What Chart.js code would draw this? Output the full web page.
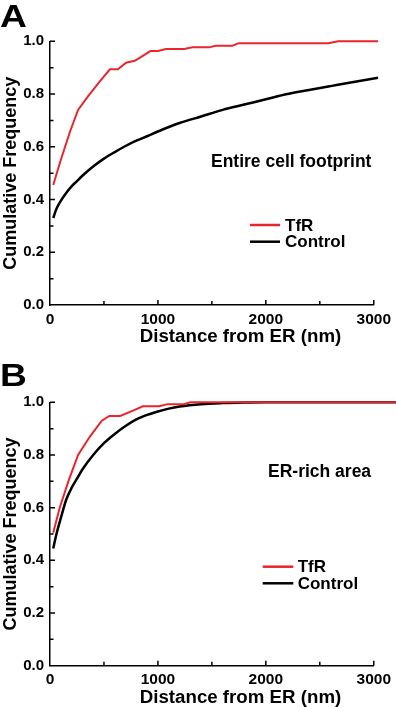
<!DOCTYPE html>
<html>
<head>
<meta charset="utf-8">
<script src="https://cdn.jsdelivr.net/npm/chart.js@4.4.0/dist/chart.umd.min.js"></script>
<style>
  html, body { margin: 0; padding: 0; background: #fff; }
  #wrap { position: relative; width: 396px; height: 707px; }
  canvas { position: absolute; left: 0; }
  #chartA { top: 0; }
  #chartB { top: 353px; }
</style>
</head>
<body>
<div id="wrap">
  <canvas id="chartA" width="396" height="353"></canvas>
  <canvas id="chartB" width="396" height="354"></canvas>
</div>
<script>
// Panel A - entire cell footprint
const distA_tfr = [30, 100, 185, 260, 350, 460, 555, 630, 705, 785, 860, 930, 1000, 1075, 1245, 1320, 1475, 1535, 1690, 1750, 2580, 2670, 3040];
const freqA_tfr = [0.455, 0.55, 0.657, 0.74, 0.79, 0.847, 0.894, 0.894, 0.919, 0.926, 0.945, 0.963, 0.963, 0.971, 0.971, 0.977, 0.977, 0.983, 0.983, 0.993, 0.993, 1.0, 1.0];
const distA_ctrl = [30, 60, 100, 150, 200, 250, 300, 400, 500, 600, 700, 800, 900, 1000, 1200, 1400, 1600, 1800, 2000, 2200, 2400, 2600, 2800, 3040];
const freqA_ctrl = [0.33, 0.365, 0.395, 0.425, 0.45, 0.47, 0.49, 0.525, 0.555, 0.58, 0.603, 0.623, 0.64, 0.658, 0.69, 0.715, 0.74, 0.76, 0.78, 0.80, 0.815, 0.83, 0.845, 0.862];

// Panel B - ER-rich area
const distB_tfr = [30, 90, 170, 260, 370, 480, 550, 650, 780, 860, 1010, 1090, 1240, 1300, 3300];
const freqB_tfr = [0.505, 0.60, 0.70, 0.80, 0.87, 0.93, 0.948, 0.948, 0.97, 0.985, 0.985, 0.993, 0.993, 1.0, 1.0];
const distB_ctrl = [30, 60, 100, 150, 200, 250, 300, 400, 500, 600, 700, 800, 900, 1000, 1100, 1200, 1400, 1600, 1800, 2000, 3300];
const freqB_ctrl = [0.445, 0.50, 0.56, 0.63, 0.675, 0.71, 0.745, 0.80, 0.845, 0.88, 0.91, 0.935, 0.952, 0.965, 0.976, 0.984, 0.993, 0.997, 0.999, 1.0, 1.0];

const seriesNames = ['TfR', 'Control'];
const seriesColors = ['#e8262d', '#000000'];
const xTicks = [0, 1000, 2000, 3000];
const xMinor = [500, 1500, 2500];
const yTicks = [0, 0.2, 0.4, 0.6, 0.8, 1.0];
const yMinor = [0.1, 0.3, 0.5, 0.7, 0.9];
const xTitle = 'Distance from ER (nm)';

const FONT = '"Liberation Sans", Arial, sans-serif';

function pts(xs, ys) {
    return xs.map((x, i) => ({ x: x, y: ys[i] }));
}

// inward tick marks, panel letter, x title, note and legend
const decor = {
    id: 'decor',
    afterDraw(chart, args, o) {
        const ctx = chart.ctx;
        const xs = chart.scales.x, ys = chart.scales.y;
        const area = chart.chartArea;
        ctx.save();
        ctx.strokeStyle = '#000';
        ctx.lineWidth = 1.5;
        ctx.beginPath();
        yTicks.forEach(v => { if (v > 0) { const p = ys.getPixelForValue(v); ctx.moveTo(area.left, p); ctx.lineTo(area.left + 5, p); } });
        yMinor.forEach(v => { const p = ys.getPixelForValue(v); ctx.moveTo(area.left, p); ctx.lineTo(area.left + 3.5, p); });
        xTicks.forEach(v => { if (v > 0) { const p = xs.getPixelForValue(v); ctx.moveTo(p, area.bottom); ctx.lineTo(p, area.bottom - 5); } });
        xMinor.forEach(v => { const p = xs.getPixelForValue(v); ctx.moveTo(p, area.bottom); ctx.lineTo(p, area.bottom - 4); });
        ctx.stroke();

        ctx.fillStyle = '#000';
        ctx.textBaseline = 'alphabetic';
        ctx.textAlign = 'left';
        // panel letter
        ctx.save();
        ctx.translate(0, o.letterY);
        ctx.scale(1.2, 1);
        ctx.font = 'bold 31px ' + FONT;
        ctx.fillText(o.letter, 0, 0);
        ctx.restore();
        // x axis title
        ctx.font = 'bold 18.7px ' + FONT;
        ctx.textAlign = 'center';
        ctx.fillText(xTitle, 240.5, o.titleY);
        ctx.textAlign = 'left';
        // note
        ctx.font = 'bold 17.5px ' + FONT;
        ctx.fillText(o.note, o.noteX, o.noteY);
        // legend
        ctx.font = 'bold 17px ' + FONT;
        seriesNames.forEach((name, i) => {
            const ly = o.legY[i];
            ctx.strokeStyle = seriesColors[i];
            ctx.lineWidth = 2.5;
            ctx.beginPath();
            ctx.moveTo(o.legX0, ly);
            ctx.lineTo(o.legX1, ly);
            ctx.stroke();
            ctx.fillText(name, o.legTextX, ly + 5.5);
        });
        ctx.restore();
    }
};

function makeChart(id, tfr, ctrl, padTop, xHeight, deco) {
    return new Chart(document.getElementById(id).getContext('2d'), {
        type: 'line',
        data: {
            datasets: [
                { label: seriesNames[0], data: tfr, borderColor: seriesColors[0], borderWidth: 2, pointRadius: 0, tension: 0, clip: false },
                { label: seriesNames[1], data: ctrl, borderColor: seriesColors[1], borderWidth: 2.5, pointRadius: 0, cubicInterpolationMode: 'monotone', clip: false }
            ]
        },
        options: {
            responsive: false,
            animation: false,
            events: [],
            layout: { padding: { top: padTop, right: 20.3, left: 0, bottom: 0 } },
            plugins: {
                legend: { display: false },
                tooltip: { enabled: false },
                decor: deco
            },
            scales: {
                x: {
                    type: 'linear',
                    min: 0,
                    max: 3000,
                    afterFit: s => { s.height = xHeight; },
                    afterBuildTicks: s => { s.ticks = xTicks.map(v => ({ value: v })); },
                    grid: { display: false, drawTicks: false },
                    border: { display: true, color: '#000', width: 1.5 },
                    ticks: { color: '#000', padding: 5, maxRotation: 0, callback: v => String(v), font: { family: FONT, size: 15.5, weight: 'bold' } },
                    title: { display: false }
                },
                y: {
                    min: 0,
                    max: 1,
                    afterFit: s => { s.width = 50; },
                    afterBuildTicks: s => { s.ticks = yTicks.map(v => ({ value: v })); },
                    grid: { display: false, drawTicks: false },
                    border: { display: true, color: '#000', width: 1.5 },
                    ticks: { color: '#000', padding: 6, callback: v => v.toFixed(1), font: { family: FONT, size: 15, weight: 'bold' } },
                    title: { display: true, text: 'Cumulative Frequency', color: '#000', padding: { top: 0, bottom: 0 }, font: { family: FONT, size: 18, weight: 'bold' } }
                }
            }
        },
        plugins: [decor]
    });
}

makeChart('chartA', pts(distA_tfr, freqA_tfr), pts(distA_ctrl, freqA_ctrl), 41.3, 48, {
    letter: 'A', letterY: 27, titleY: 341.7,
    note: 'Entire cell footprint', noteX: 211, noteY: 166.7,
    legX0: 250, legX1: 280, legTextX: 285, legY: [225, 241.7]
});

makeChart('chartB', pts(distB_tfr, freqB_tfr), pts(distB_ctrl, freqB_ctrl), 49.3, 41.3, {
    letter: 'B', letterY: 32.7, titleY: 349.7,
    note: 'ER-rich area', noteX: 268, noteY: 123.7,
    legX0: 262.7, legX1: 293.3, legTextX: 297.7, legY: [213.7, 230.3]
});
</script>
</body>
</html>
